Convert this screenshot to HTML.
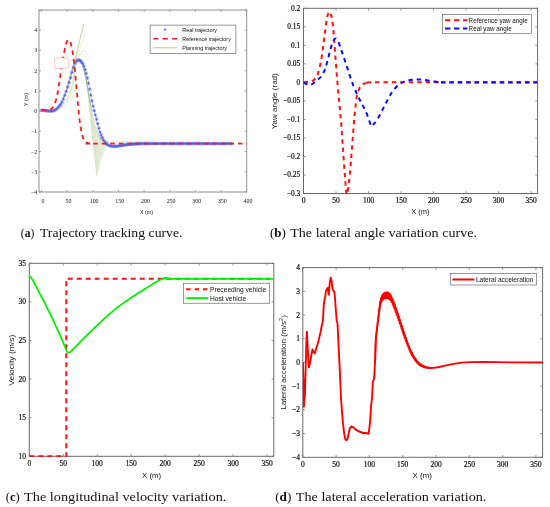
<!DOCTYPE html>
<html><head><meta charset="utf-8"><title>Figure</title>
<style>html,body{margin:0;padding:0;background:#fff;width:550px;height:507px;overflow:hidden}svg{display:block}</style>
</head><body>
<svg width="550" height="507" viewBox="0 0 550 507">
<rect width="550" height="507" fill="#fff"/>
<defs>
<clipPath id="ca"><rect x="39" y="10" width="207.7" height="182"/></clipPath>
<clipPath id="cb"><rect x="303.5" y="8.3" width="234.10000000000002" height="186.2"/></clipPath>
<clipPath id="cc"><rect x="29.3" y="263.3" width="244.5" height="194.0"/></clipPath>
<clipPath id="cd"><rect x="302.8" y="267.6" width="239.8" height="189.7"/></clipPath>
</defs>
<path d="M41.56 192v-2 M41.56 10v2 M67.2 192v-2 M67.2 10v2 M92.84 192v-2 M92.84 10v2 M118.48 192v-2 M118.48 10v2 M144.12 192v-2 M144.12 10v2 M169.76 192v-2 M169.76 10v2 M195.4 192v-2 M195.4 10v2 M221.04 192v-2 M221.04 10v2 M246.68 192v-2 M246.68 10v2 M39 191.98h2 M246.7 191.98h-2 M39 171.76h2 M246.7 171.76h-2 M39 151.54h2 M246.7 151.54h-2 M39 131.32h2 M246.7 131.32h-2 M39 111.1h2 M246.7 111.1h-2 M39 90.88h2 M246.7 90.88h-2 M39 70.66h2 M246.7 70.66h-2 M39 50.44h2 M246.7 50.44h-2 M39 30.22h2 M246.7 30.22h-2 M39 10h2 M246.7 10h-2 " stroke="#8a8a8a" stroke-width="0.7" fill="none"/>
<rect x="39" y="10" width="207.7" height="182" fill="none" stroke="#8a8a8a" stroke-width="0.95"/>
<g clip-path="url(#ca)">
<path d="M50 110.6 C50.83 110.43 53.33 110.53 55 109.6 C56.67 108.67 58.5 107.1 60 105 C61.5 102.9 62.75 100 64 97 C65.25 94 66.42 90.5 67.5 87 C68.58 83.5 69.58 79.33 70.5 76 C71.42 72.67 72.2 69.5 73 67 C73.8 64.5 74.5 62.35 75.3 61 C76.1 59.65 76.97 59.1 77.8 58.9 C78.63 58.7 79.52 58.98 80.3 59.8 C81.08 60.62 81.83 62.02 82.5 63.8 C83.17 65.58 83.72 68 84.3 70.5 C84.88 73 85.45 75.88 86 78.8 C86.55 81.72 87.07 84.8 87.6 88 C88.13 91.2 88.67 94.67 89.2 98 C89.73 101.33 90.23 104.75 90.8 108 C91.37 111.25 91.93 114.5 92.6 117.5 C93.27 120.5 93.93 123.28 94.8 126 C95.67 128.72 96.72 131.5 97.8 133.8 C98.88 136.1 100.05 138.13 101.3 139.8 C102.55 141.47 103.85 142.82 105.3 143.8 C106.75 144.78 107.88 145.32 110 145.7 C112.12 146.08 114.67 146.18 118 146.1 C121.33 146.02 126.33 145.45 130 145.2 C133.67 144.95 138.33 144.7 140 144.6" fill="none" stroke="#a9c585" stroke-width="1.3"/>
<path d="M88.5 100 L92.5 140 L96.8 176.5 L99.5 168 L104 152 L107 146 L100 139 L94 120 Z" fill="#e6eedb" opacity="0.9"/>
<path d="M88 96 L96.8 176" stroke="#cfdeb9" stroke-width="0.5" fill="none"/>
<path d="M89.5 104 L97.2 174" stroke="#cfdeb9" stroke-width="0.5" fill="none"/>
<path d="M91 112 L97.6 171" stroke="#cfdeb9" stroke-width="0.5" fill="none"/>
<path d="M92.8 119 L98.2 167" stroke="#cfdeb9" stroke-width="0.5" fill="none"/>
<path d="M94.5 126 L99 162" stroke="#cfdeb9" stroke-width="0.5" fill="none"/>
<path d="M96.5 131 L100 157" stroke="#cfdeb9" stroke-width="0.5" fill="none"/>
<path d="M99 136 L101.5 153" stroke="#cfdeb9" stroke-width="0.5" fill="none"/>
<path d="M102 140 L103.5 150" stroke="#cfdeb9" stroke-width="0.5" fill="none"/>
<path d="M74.3 63 L83.6 24.4" stroke="#bfd39b" stroke-width="1.0" fill="none"/>
<path d="M74.3 63 L86 32.3" stroke="#d3e1bd" stroke-width="0.6" fill="none"/>
<path d="M74.3 63 L87.5 43.6" stroke="#e0eacf" stroke-width="0.5" fill="none"/>
<path d="M52 110.5 C53.33 110 57.67 109.08 60 107.5 C62.33 105.92 64.25 103.75 66 101 C67.75 98.25 69.25 94.83 70.5 91 C71.75 87.17 72.67 82.17 73.5 78 C74.33 73.83 75.17 68 75.5 66" fill="none" stroke="#d5e3c0" stroke-width="0.6"/>
<path d="M56 108.5 C57.17 107.75 61 105.92 63 104 C65 102.08 66.5 100 68 97 C69.5 94 70.92 89.83 72 86 C73.08 82.17 74.08 76 74.5 74" fill="none" stroke="#d5e3c0" stroke-width="0.6"/>
<path d="M55 110 C56.67 109 62.33 107 65 104 C67.67 101 69.5 96.33 71 92 C72.5 87.67 73.25 82.67 74 78 C74.75 73.33 75.25 66.33 75.5 64" fill="none" stroke="#dbe7ca" stroke-width="0.6"/>
<path d="M58 110 C59.5 108.92 64.67 106.67 67 103.5 C69.33 100.33 70.67 96.08 72 91 C73.33 85.92 74.5 76 75 73" fill="none" stroke="#dbe7ca" stroke-width="0.6"/>
<path d="M61 109.5 C62.33 108.58 66.92 106.58 69 104 C71.08 101.42 72.33 98.33 73.5 94 C74.67 89.67 75.58 80.67 76 78" fill="none" stroke="#dbe7ca" stroke-width="0.6"/>
<path d="M52 111 C53.67 110.33 59.17 109.33 62 107 C64.83 104.67 67.13 101.17 69 97 C70.87 92.83 72.15 87.5 73.2 82 C74.25 76.5 74.95 67 75.3 64" fill="none" stroke="#dbe7ca" stroke-width="0.6"/>
<path d="M76 61 C76.67 60 78.67 56 80 55 C81.33 54 82.83 54.17 84 55 C85.17 55.83 86.5 59.17 87 60" fill="none" stroke="#d5e3c0" stroke-width="0.6"/>
<path d="M76 61 C76.83 59.5 79.33 53.5 81 52 C82.67 50.5 84.67 51 86 52 C87.33 53 88.5 57 89 58" fill="none" stroke="#dce8c8" stroke-width="0.6"/>
<path d="M100 142 L150 142.5" stroke="#e3ecd6" stroke-width="2" fill="none"/>
<path d="M41.6 110.2 C42.33 110.28 44.6 110.55 46 110.7 C47.4 110.85 48.75 111.08 50 111.1 C51.25 111.12 52.33 111.23 53.5 110.8 C54.67 110.37 55.63 109.87 57 108.5 C58.37 107.13 60.33 104.97 61.7 102.6 C63.07 100.23 64.02 97.45 65.2 94.3 C66.38 91.15 67.78 86.88 68.8 83.7 C69.82 80.52 70.5 77.97 71.3 75.2 C72.1 72.43 72.83 69.33 73.6 67.1 C74.37 64.87 75.03 62.95 75.9 61.8 C76.77 60.65 77.75 60.03 78.8 60.2 C79.85 60.37 81.12 61.12 82.2 62.8 C83.28 64.48 84.37 67.43 85.3 70.3 C86.23 73.17 87 76.47 87.8 80 C88.6 83.53 89.32 87.58 90.1 91.5 C90.88 95.42 91.75 100.08 92.5 103.5 C93.25 106.92 93.88 109.22 94.6 112 C95.32 114.78 95.98 117.12 96.8 120.2 C97.62 123.28 98.63 127.7 99.5 130.5 C100.37 133.3 101.17 135.17 102 137 C102.83 138.83 103.5 140.17 104.5 141.5 C105.5 142.83 106.75 144.2 108 145 C109.25 145.8 110.5 146.1 112 146.3 C113.5 146.5 115.17 146.38 117 146.2 C118.83 146.02 120.83 145.53 123 145.2 C125.17 144.87 127.17 144.45 130 144.2 C132.83 143.95 135 143.8 140 143.7 C145 143.6 144.63 143.62 160 143.6 C175.37 143.58 220.17 143.6 232.2 143.6" fill="none" stroke="#8c98f0" stroke-width="0.8" opacity="0.7"/>
<path d="M39.8 110.2h3.6 M41.6 108.4v3.6 M40.34 108.94l2.52 2.52 M40.34 111.46l2.52 -2.52 M41.25 110.37h3.6 M43.05 108.57v3.6 M41.79 109.11l2.52 2.52 M41.79 111.63l2.52 -2.52 M42.7 110.53h3.6 M44.5 108.73v3.6 M43.24 109.27l2.52 2.52 M43.24 111.79l2.52 -2.52 M44.15 110.69h3.6 M45.95 108.89v3.6 M44.69 109.43l2.52 2.52 M44.69 111.95l2.52 -2.52 M45.6 110.87h3.6 M47.4 109.07v3.6 M46.14 109.61l2.52 2.52 M46.14 112.13l2.52 -2.52 M47.05 111.03h3.6 M48.85 109.23v3.6 M47.59 109.77l2.52 2.52 M47.59 112.29l2.52 -2.52 M48.5 111.11h3.6 M50.3 109.31v3.6 M49.04 109.85l2.52 2.52 M49.04 112.37l2.52 -2.52 M49.95 111.12h3.6 M51.75 109.32v3.6 M50.49 109.86l2.52 2.52 M50.49 112.38l2.52 -2.52 M51.4 110.9h3.6 M53.2 109.1v3.6 M51.94 109.64l2.52 2.52 M51.94 112.16l2.52 -2.52 M52.85 110.3h3.6 M54.65 108.5v3.6 M53.39 109.04l2.52 2.52 M53.39 111.56l2.52 -2.52 M54.3 109.33h3.6 M56.1 107.53v3.6 M54.84 108.07l2.52 2.52 M54.84 110.59l2.52 -2.52 M55.75 107.94h3.6 M57.55 106.14v3.6 M56.29 106.68l2.52 2.52 M56.29 109.2l2.52 -2.52 M57.2 106.34h3.6 M59 104.54v3.6 M57.74 105.08l2.52 2.52 M57.74 107.6l2.52 -2.52 M58.65 104.51h3.6 M60.45 102.71v3.6 M59.19 103.25l2.52 2.52 M59.19 105.77l2.52 -2.52 M60.1 102.24h3.6 M61.9 100.44v3.6 M60.64 100.98l2.52 2.52 M60.64 103.5l2.52 -2.52 M61.55 99.16h3.6 M63.35 97.36v3.6 M62.09 97.9l2.52 2.52 M62.09 100.42l2.52 -2.52 M63 95.37h3.6 M64.8 93.57v3.6 M63.54 94.11l2.52 2.52 M63.54 96.63l2.52 -2.52 M64.45 91.39h3.6 M66.25 89.59v3.6 M64.99 90.13l2.52 2.52 M64.99 92.65l2.52 -2.52 M65.9 87.1h3.6 M67.7 85.3v3.6 M66.44 85.84l2.52 2.52 M66.44 88.36l2.52 -2.52 M67.35 82.59h3.6 M69.15 80.79v3.6 M67.89 81.33l2.52 2.52 M67.89 83.85l2.52 -2.52 M68.8 77.65h3.6 M70.6 75.85v3.6 M69.34 76.39l2.52 2.52 M69.34 78.91l2.52 -2.52 M70.25 72.48h3.6 M72.05 70.68v3.6 M70.79 71.22l2.52 2.52 M70.79 73.74l2.52 -2.52 M71.7 67.4h3.6 M73.5 65.6v3.6 M72.24 66.14l2.52 2.52 M72.24 68.66l2.52 -2.52 M73.15 63.49h3.6 M74.95 61.69v3.6 M73.69 62.23l2.52 2.52 M73.69 64.75l2.52 -2.52 M74.6 61.21h3.6 M76.4 59.41v3.6 M75.14 59.95l2.52 2.52 M75.14 62.47l2.52 -2.52 M76.05 60.26h3.6 M77.85 58.46v3.6 M76.59 59l2.52 2.52 M76.59 61.52l2.52 -2.52 M77.5 60.32h3.6 M79.3 58.52v3.6 M78.04 59.06l2.52 2.52 M78.04 61.58l2.52 -2.52 M78.65 60.91h3.6 M80.45 59.11v3.6 M79.19 59.65l2.52 2.52 M79.19 62.17l2.52 -2.52 M79.8 61.98h3.6 M81.6 60.18v3.6 M80.34 60.72l2.52 2.52 M80.34 63.24l2.52 -2.52 M80.95 63.76h3.6 M82.75 61.96v3.6 M81.49 62.5l2.52 2.52 M81.49 65.02l2.52 -2.52 M82.1 66.34h3.6 M83.9 64.54v3.6 M82.64 65.08l2.52 2.52 M82.64 67.6l2.52 -2.52 M83.25 69.54h3.6 M85.05 67.74v3.6 M83.79 68.28l2.52 2.52 M83.79 70.8l2.52 -2.52 M84.4 73.36h3.6 M86.2 71.56v3.6 M84.94 72.1l2.52 2.52 M84.94 74.62l2.52 -2.52 M85.55 78.03h3.6 M87.35 76.23v3.6 M86.09 76.77l2.52 2.52 M86.09 79.29l2.52 -2.52 M86.7 83.29h3.6 M88.5 81.49v3.6 M87.24 82.03l2.52 2.52 M87.24 84.55l2.52 -2.52 M87.85 89.21h3.6 M89.65 87.41v3.6 M88.39 87.95l2.52 2.52 M88.39 90.47l2.52 -2.52 M89 95.06h3.6 M90.8 93.26v3.6 M89.54 93.8l2.52 2.52 M89.54 96.32l2.52 -2.52 M90.15 100.89h3.6 M91.95 99.09v3.6 M90.69 99.63l2.52 2.52 M90.69 102.15l2.52 -2.52 M91.3 106.11h3.6 M93.1 104.31v3.6 M91.84 104.85l2.52 2.52 M91.84 107.37l2.52 -2.52 M92.45 110.65h3.6 M94.25 108.85v3.6 M92.99 109.39l2.52 2.52 M92.99 111.91l2.52 -2.52 M93.6 115.02h3.6 M95.4 113.22v3.6 M94.14 113.76l2.52 2.52 M94.14 116.28l2.52 -2.52 M94.75 119.26h3.6 M96.55 117.46v3.6 M95.29 118l2.52 2.52 M95.29 120.52l2.52 -2.52 M95.9 123.74h3.6 M97.7 121.94v3.6 M96.44 122.48l2.52 2.52 M96.44 125l2.52 -2.52 M97.05 128.23h3.6 M98.85 126.43v3.6 M97.59 126.97l2.52 2.52 M97.59 129.49l2.52 -2.52 M98.2 132.04h3.6 M100 130.24v3.6 M98.74 130.78l2.52 2.52 M98.74 133.3l2.52 -2.52 M99.35 135.06h3.6 M101.15 133.26v3.6 M99.89 133.8l2.52 2.52 M99.89 136.32l2.52 -2.52 M100.5 137.65h3.6 M102.3 135.85v3.6 M101.04 136.39l2.52 2.52 M101.04 138.91l2.52 -2.52 M101.65 139.91h3.6 M103.45 138.11v3.6 M102.19 138.65l2.52 2.52 M102.19 141.17l2.52 -2.52 M102.8 141.63h3.6 M104.6 139.83v3.6 M103.34 140.37l2.52 2.52 M103.34 142.89l2.52 -2.52 M103.95 143.02h3.6 M105.75 141.22v3.6 M104.49 141.76l2.52 2.52 M104.49 144.28l2.52 -2.52 M105.1 144.16h3.6 M106.9 142.36v3.6 M105.64 142.9l2.52 2.52 M105.64 145.42l2.52 -2.52 M106.55 145.21h3.6 M108.35 143.41v3.6 M107.09 143.95l2.52 2.52 M107.09 146.47l2.52 -2.52 M108 145.84h3.6 M109.8 144.04v3.6 M108.54 144.58l2.52 2.52 M108.54 147.1l2.52 -2.52 M109.45 146.19h3.6 M111.25 144.39v3.6 M109.99 144.93l2.52 2.52 M109.99 147.45l2.52 -2.52 M110.9 146.37h3.6 M112.7 144.57v3.6 M111.44 145.11l2.52 2.52 M111.44 147.63l2.52 -2.52 M112.35 146.4h3.6 M114.15 144.6v3.6 M112.89 145.14l2.52 2.52 M112.89 147.66l2.52 -2.52 M113.8 146.33h3.6 M115.6 144.53v3.6 M114.34 145.07l2.52 2.52 M114.34 147.59l2.52 -2.52 M115.25 146.19h3.6 M117.05 144.39v3.6 M115.79 144.93l2.52 2.52 M115.79 147.45l2.52 -2.52 M116.7 146h3.6 M118.5 144.2v3.6 M117.24 144.74l2.52 2.52 M117.24 147.26l2.52 -2.52 M118.15 145.74h3.6 M119.95 143.94v3.6 M118.69 144.48l2.52 2.52 M118.69 147l2.52 -2.52 M119.6 145.47h3.6 M121.4 143.67v3.6 M120.14 144.21l2.52 2.52 M120.14 146.73l2.52 -2.52 M121.05 145.22h3.6 M122.85 143.42v3.6 M121.59 143.96l2.52 2.52 M121.59 146.48l2.52 -2.52 M122.5 144.99h3.6 M124.3 143.19v3.6 M123.04 143.73l2.52 2.52 M123.04 146.25l2.52 -2.52 M123.95 144.75h3.6 M125.75 142.95v3.6 M124.49 143.49l2.52 2.52 M124.49 146.01l2.52 -2.52 M125.4 144.53h3.6 M127.2 142.73v3.6 M125.94 143.27l2.52 2.52 M125.94 145.79l2.52 -2.52 M126.85 144.34h3.6 M128.65 142.54v3.6 M127.39 143.08l2.52 2.52 M127.39 145.6l2.52 -2.52 M128.3 144.19h3.6 M130.1 142.39v3.6 M128.84 142.93l2.52 2.52 M128.84 145.45l2.52 -2.52 M129.75 144.07h3.6 M131.55 142.27v3.6 M130.29 142.81l2.52 2.52 M130.29 145.33l2.52 -2.52 M131.2 143.96h3.6 M133 142.16v3.6 M131.74 142.7l2.52 2.52 M131.74 145.22l2.52 -2.52 M132.65 143.88h3.6 M134.45 142.08v3.6 M133.19 142.62l2.52 2.52 M133.19 145.14l2.52 -2.52 M134.1 143.82h3.6 M135.9 142.02v3.6 M134.64 142.56l2.52 2.52 M134.64 145.08l2.52 -2.52 M135.55 143.77h3.6 M137.35 141.97v3.6 M136.09 142.51l2.52 2.52 M136.09 145.03l2.52 -2.52 M137 143.73h3.6 M138.8 141.93v3.6 M137.54 142.47l2.52 2.52 M137.54 144.99l2.52 -2.52 M138.45 143.7h3.6 M140.25 141.9v3.6 M138.99 142.44l2.52 2.52 M138.99 144.96l2.52 -2.52 M139.9 143.67h3.6 M141.7 141.87v3.6 M140.44 142.41l2.52 2.52 M140.44 144.93l2.52 -2.52 M141.35 143.64h3.6 M143.15 141.84v3.6 M141.89 142.38l2.52 2.52 M141.89 144.9l2.52 -2.52 M142.8 143.63h3.6 M144.6 141.83v3.6 M143.34 142.37l2.52 2.52 M143.34 144.89l2.52 -2.52 M144.25 143.62h3.6 M146.05 141.82v3.6 M144.79 142.36l2.52 2.52 M144.79 144.88l2.52 -2.52 M145.7 143.61h3.6 M147.5 141.81v3.6 M146.24 142.35l2.52 2.52 M146.24 144.87l2.52 -2.52 M147.15 143.61h3.6 M148.95 141.81v3.6 M147.69 142.35l2.52 2.52 M147.69 144.87l2.52 -2.52 M148.6 143.61h3.6 M150.4 141.81v3.6 M149.14 142.35l2.52 2.52 M149.14 144.87l2.52 -2.52 M150.05 143.61h3.6 M151.85 141.81v3.6 M150.59 142.35l2.52 2.52 M150.59 144.87l2.52 -2.52 M151.5 143.61h3.6 M153.3 141.81v3.6 M152.04 142.35l2.52 2.52 M152.04 144.87l2.52 -2.52 M152.95 143.61h3.6 M154.75 141.81v3.6 M153.49 142.35l2.52 2.52 M153.49 144.87l2.52 -2.52 M154.4 143.6h3.6 M156.2 141.8v3.6 M154.94 142.34l2.52 2.52 M154.94 144.86l2.52 -2.52 M155.85 143.6h3.6 M157.65 141.8v3.6 M156.39 142.34l2.52 2.52 M156.39 144.86l2.52 -2.52 M157.3 143.6h3.6 M159.1 141.8v3.6 M157.84 142.34l2.52 2.52 M157.84 144.86l2.52 -2.52 M158.75 143.6h3.6 M160.55 141.8v3.6 M159.29 142.34l2.52 2.52 M159.29 144.86l2.52 -2.52 M160.2 143.6h3.6 M162 141.8v3.6 M160.74 142.34l2.52 2.52 M160.74 144.86l2.52 -2.52 M161.65 143.6h3.6 M163.45 141.8v3.6 M162.19 142.34l2.52 2.52 M162.19 144.86l2.52 -2.52 M163.1 143.6h3.6 M164.9 141.8v3.6 M163.64 142.34l2.52 2.52 M163.64 144.86l2.52 -2.52 M164.55 143.6h3.6 M166.35 141.8v3.6 M165.09 142.34l2.52 2.52 M165.09 144.86l2.52 -2.52 M166 143.59h3.6 M167.8 141.79v3.6 M166.54 142.33l2.52 2.52 M166.54 144.85l2.52 -2.52 M167.45 143.59h3.6 M169.25 141.79v3.6 M167.99 142.33l2.52 2.52 M167.99 144.85l2.52 -2.52 M168.9 143.59h3.6 M170.7 141.79v3.6 M169.44 142.33l2.52 2.52 M169.44 144.85l2.52 -2.52 M170.35 143.59h3.6 M172.15 141.79v3.6 M170.89 142.33l2.52 2.52 M170.89 144.85l2.52 -2.52 M171.8 143.59h3.6 M173.6 141.79v3.6 M172.34 142.33l2.52 2.52 M172.34 144.85l2.52 -2.52 M173.25 143.59h3.6 M175.05 141.79v3.6 M173.79 142.33l2.52 2.52 M173.79 144.85l2.52 -2.52 M174.7 143.59h3.6 M176.5 141.79v3.6 M175.24 142.33l2.52 2.52 M175.24 144.85l2.52 -2.52 M176.15 143.59h3.6 M177.95 141.79v3.6 M176.69 142.33l2.52 2.52 M176.69 144.85l2.52 -2.52 M177.6 143.59h3.6 M179.4 141.79v3.6 M178.14 142.33l2.52 2.52 M178.14 144.85l2.52 -2.52 M179.05 143.59h3.6 M180.85 141.79v3.6 M179.59 142.33l2.52 2.52 M179.59 144.85l2.52 -2.52 M180.5 143.59h3.6 M182.3 141.79v3.6 M181.04 142.33l2.52 2.52 M181.04 144.85l2.52 -2.52 M181.95 143.59h3.6 M183.75 141.79v3.6 M182.49 142.33l2.52 2.52 M182.49 144.85l2.52 -2.52 M183.4 143.59h3.6 M185.2 141.79v3.6 M183.94 142.33l2.52 2.52 M183.94 144.85l2.52 -2.52 M184.85 143.59h3.6 M186.65 141.79v3.6 M185.39 142.33l2.52 2.52 M185.39 144.85l2.52 -2.52 M186.3 143.59h3.6 M188.1 141.79v3.6 M186.84 142.33l2.52 2.52 M186.84 144.85l2.52 -2.52 M187.75 143.59h3.6 M189.55 141.79v3.6 M188.29 142.33l2.52 2.52 M188.29 144.85l2.52 -2.52 M189.2 143.59h3.6 M191 141.79v3.6 M189.74 142.33l2.52 2.52 M189.74 144.85l2.52 -2.52 M190.65 143.59h3.6 M192.45 141.79v3.6 M191.19 142.33l2.52 2.52 M191.19 144.85l2.52 -2.52 M192.1 143.59h3.6 M193.9 141.79v3.6 M192.64 142.33l2.52 2.52 M192.64 144.85l2.52 -2.52 M193.55 143.59h3.6 M195.35 141.79v3.6 M194.09 142.33l2.52 2.52 M194.09 144.85l2.52 -2.52 M195 143.59h3.6 M196.8 141.79v3.6 M195.54 142.33l2.52 2.52 M195.54 144.85l2.52 -2.52 M196.45 143.59h3.6 M198.25 141.79v3.6 M196.99 142.33l2.52 2.52 M196.99 144.85l2.52 -2.52 M197.9 143.59h3.6 M199.7 141.79v3.6 M198.44 142.33l2.52 2.52 M198.44 144.85l2.52 -2.52 M199.35 143.59h3.6 M201.15 141.79v3.6 M199.89 142.33l2.52 2.52 M199.89 144.85l2.52 -2.52 M200.8 143.59h3.6 M202.6 141.79v3.6 M201.34 142.33l2.52 2.52 M201.34 144.85l2.52 -2.52 M202.25 143.59h3.6 M204.05 141.79v3.6 M202.79 142.33l2.52 2.52 M202.79 144.85l2.52 -2.52 M203.7 143.6h3.6 M205.5 141.8v3.6 M204.24 142.34l2.52 2.52 M204.24 144.86l2.52 -2.52 M205.15 143.6h3.6 M206.95 141.8v3.6 M205.69 142.34l2.52 2.52 M205.69 144.86l2.52 -2.52 M206.6 143.6h3.6 M208.4 141.8v3.6 M207.14 142.34l2.52 2.52 M207.14 144.86l2.52 -2.52 M208.05 143.6h3.6 M209.85 141.8v3.6 M208.59 142.34l2.52 2.52 M208.59 144.86l2.52 -2.52 M209.5 143.6h3.6 M211.3 141.8v3.6 M210.04 142.34l2.52 2.52 M210.04 144.86l2.52 -2.52 M210.95 143.6h3.6 M212.75 141.8v3.6 M211.49 142.34l2.52 2.52 M211.49 144.86l2.52 -2.52 M212.4 143.6h3.6 M214.2 141.8v3.6 M212.94 142.34l2.52 2.52 M212.94 144.86l2.52 -2.52 M213.85 143.6h3.6 M215.65 141.8v3.6 M214.39 142.34l2.52 2.52 M214.39 144.86l2.52 -2.52 M215.3 143.6h3.6 M217.1 141.8v3.6 M215.84 142.34l2.52 2.52 M215.84 144.86l2.52 -2.52 M216.75 143.6h3.6 M218.55 141.8v3.6 M217.29 142.34l2.52 2.52 M217.29 144.86l2.52 -2.52 M218.2 143.6h3.6 M220 141.8v3.6 M218.74 142.34l2.52 2.52 M218.74 144.86l2.52 -2.52 M219.65 143.6h3.6 M221.45 141.8v3.6 M220.19 142.34l2.52 2.52 M220.19 144.86l2.52 -2.52 M221.1 143.6h3.6 M222.9 141.8v3.6 M221.64 142.34l2.52 2.52 M221.64 144.86l2.52 -2.52 M222.55 143.6h3.6 M224.35 141.8v3.6 M223.09 142.34l2.52 2.52 M223.09 144.86l2.52 -2.52 M224 143.6h3.6 M225.8 141.8v3.6 M224.54 142.34l2.52 2.52 M224.54 144.86l2.52 -2.52 M225.45 143.6h3.6 M227.25 141.8v3.6 M225.99 142.34l2.52 2.52 M225.99 144.86l2.52 -2.52 M226.9 143.6h3.6 M228.7 141.8v3.6 M227.44 142.34l2.52 2.52 M227.44 144.86l2.52 -2.52 M228.35 143.6h3.6 M230.15 141.8v3.6 M228.89 142.34l2.52 2.52 M228.89 144.86l2.52 -2.52 M229.8 143.6h3.6 M231.6 141.8v3.6 M230.34 142.34l2.52 2.52 M230.34 144.86l2.52 -2.52 " fill="none" stroke="#4d5ff3" stroke-width="0.8" opacity="0.8"/>
<path d="M41.6 110.1 C42.33 110.08 44.63 110.08 46 110 C47.37 109.92 48.75 109.92 49.8 109.6 C50.85 109.28 51.52 108.95 52.3 108.1 C53.08 107.25 53.83 106.02 54.5 104.5 C55.17 102.98 55.72 101.25 56.3 99 C56.88 96.75 57.42 94.33 58 91 C58.58 87.67 59.18 83 59.8 79 C60.42 75 61.08 70.83 61.7 67 C62.32 63.17 62.87 59.5 63.5 56 C64.13 52.5 64.88 48.5 65.5 46 C66.12 43.5 66.7 41.98 67.2 41 C67.7 40.02 68.07 40.1 68.5 40.1 C68.93 40.1 69.3 40.02 69.8 41 C70.3 41.98 70.88 43.17 71.5 46 C72.12 48.83 72.88 53.33 73.5 58 C74.12 62.67 74.7 69 75.2 74 C75.7 79 76.08 83.5 76.5 88 C76.92 92.5 77.3 96.67 77.7 101 C78.1 105.33 78.48 110.08 78.9 114 C79.32 117.92 79.72 121.25 80.2 124.5 C80.68 127.75 81.17 130.92 81.8 133.5 C82.43 136.08 83.13 138.43 84 140 C84.87 141.57 85.83 142.3 87 142.9 C88.17 143.5 88.83 143.47 91 143.6 C93.17 143.73 74 143.68 100 143.7 C126 143.72 222.5 143.7 247 143.7" fill="none" stroke="#ff1a1a" stroke-width="1.8" stroke-dasharray="4.6 3.9"/>
<rect x="54.7" y="58" width="13.6" height="10.4" rx="1.5" fill="#fff" stroke="#eaa4a4" stroke-width="0.6"/>
</g>
<rect x="150.1" y="25.1" width="85.8" height="28.5" fill="#fff" stroke="#555" stroke-width="0.6"/>
<path d="M153.2 47.8 H177.4" stroke="#b4cc94" stroke-width="1"/>
<path d="M153.2 38.7 H177.4" stroke="#ff1a1a" stroke-width="1.6" stroke-dasharray="5.2 4.2"/>
<path d="M163.4 29.6h3.2 M165 28v3.2 M163.9 28.5l2.2 2.2 M163.9 30.7l2.2 -2.2" stroke="#5d6ef5" stroke-width="0.6"/>
<text x="182.3" y="29.8" font-size="5.4" font-family="'Liberation Sans', Arial, sans-serif" text-anchor="start" dominant-baseline="central" fill="#111" >Real trajectory</text>
<text x="182.3" y="38.8" font-size="5.4" font-family="'Liberation Sans', Arial, sans-serif" text-anchor="start" dominant-baseline="central" fill="#111" >Reference trajectory</text>
<text x="182.3" y="47.8" font-size="5.4" font-family="'Liberation Sans', Arial, sans-serif" text-anchor="start" dominant-baseline="central" fill="#111" >Planning trajectory</text>
<text x="42.86" y="200.5" font-size="5.9" font-family="'Liberation Serif', serif" text-anchor="middle" dominant-baseline="central" fill="#111" >0</text>
<text x="68.5" y="200.5" font-size="5.9" font-family="'Liberation Serif', serif" text-anchor="middle" dominant-baseline="central" fill="#111" >50</text>
<text x="94.14" y="200.5" font-size="5.9" font-family="'Liberation Serif', serif" text-anchor="middle" dominant-baseline="central" fill="#111" >100</text>
<text x="119.78" y="200.5" font-size="5.9" font-family="'Liberation Serif', serif" text-anchor="middle" dominant-baseline="central" fill="#111" >150</text>
<text x="145.42" y="200.5" font-size="5.9" font-family="'Liberation Serif', serif" text-anchor="middle" dominant-baseline="central" fill="#111" >200</text>
<text x="171.06" y="200.5" font-size="5.9" font-family="'Liberation Serif', serif" text-anchor="middle" dominant-baseline="central" fill="#111" >250</text>
<text x="196.7" y="200.5" font-size="5.9" font-family="'Liberation Serif', serif" text-anchor="middle" dominant-baseline="central" fill="#111" >300</text>
<text x="222.34" y="200.5" font-size="5.9" font-family="'Liberation Serif', serif" text-anchor="middle" dominant-baseline="central" fill="#111" >350</text>
<text x="247.98" y="200.5" font-size="5.9" font-family="'Liberation Serif', serif" text-anchor="middle" dominant-baseline="central" fill="#111" >400</text>
<text x="37.2" y="191.98" font-size="5.8" font-family="'Liberation Serif', serif" text-anchor="end" dominant-baseline="central" fill="#111" >−4</text>
<text x="37.2" y="171.76" font-size="5.8" font-family="'Liberation Serif', serif" text-anchor="end" dominant-baseline="central" fill="#111" >−3</text>
<text x="37.2" y="151.54" font-size="5.8" font-family="'Liberation Serif', serif" text-anchor="end" dominant-baseline="central" fill="#111" >−2</text>
<text x="37.2" y="131.32" font-size="5.8" font-family="'Liberation Serif', serif" text-anchor="end" dominant-baseline="central" fill="#111" >−1</text>
<text x="37.2" y="111.1" font-size="5.8" font-family="'Liberation Serif', serif" text-anchor="end" dominant-baseline="central" fill="#111" >0</text>
<text x="37.2" y="90.88" font-size="5.8" font-family="'Liberation Serif', serif" text-anchor="end" dominant-baseline="central" fill="#111" >1</text>
<text x="37.2" y="70.66" font-size="5.8" font-family="'Liberation Serif', serif" text-anchor="end" dominant-baseline="central" fill="#111" >2</text>
<text x="37.2" y="50.44" font-size="5.8" font-family="'Liberation Serif', serif" text-anchor="end" dominant-baseline="central" fill="#111" >3</text>
<text x="37.2" y="30.22" font-size="5.8" font-family="'Liberation Serif', serif" text-anchor="end" dominant-baseline="central" fill="#111" >4</text>
<text x="146.5" y="211.7" font-size="5.3" font-family="'Liberation Sans', Arial, sans-serif" text-anchor="middle" dominant-baseline="central" fill="#111" >X (m)</text>
<text x="27.8" y="99.5" font-size="5.3" font-family="'Liberation Sans', Arial, sans-serif" text-anchor="middle" fill="#222" textLength="13" lengthAdjust="spacingAndGlyphs" transform="rotate(-90 27.8 99.5)">Y (m)</text>
<path d="M303.5 193.5v-2.3 M303.5 8.3v2.3 M336.01 193.5v-2.3 M336.01 8.3v2.3 M368.53 193.5v-2.3 M368.53 8.3v2.3 M401.05 193.5v-2.3 M401.05 8.3v2.3 M433.56 193.5v-2.3 M433.56 8.3v2.3 M466.07 193.5v-2.3 M466.07 8.3v2.3 M498.59 193.5v-2.3 M498.59 8.3v2.3 M531.11 193.5v-2.3 M531.11 8.3v2.3 M303.5 193.5h2.3 M537.6 193.5h-2.3 M303.5 174.98h2.3 M537.6 174.98h-2.3 M303.5 156.46h2.3 M537.6 156.46h-2.3 M303.5 137.94h2.3 M537.6 137.94h-2.3 M303.5 119.42h2.3 M537.6 119.42h-2.3 M303.5 100.9h2.3 M537.6 100.9h-2.3 M303.5 82.38h2.3 M537.6 82.38h-2.3 M303.5 63.86h2.3 M537.6 63.86h-2.3 M303.5 45.34h2.3 M537.6 45.34h-2.3 M303.5 26.82h2.3 M537.6 26.82h-2.3 M303.5 8.3h2.3 M537.6 8.3h-2.3 " stroke="#6a6a6a" stroke-width="0.7" fill="none"/>
<rect x="303.5" y="8.3" width="234.1" height="185.2" fill="none" stroke="#6a6a6a" stroke-width="1"/>
<g clip-path="url(#cb)">
<path d="M303.6 82.3 C304.48 82.23 307.2 82.28 308.9 81.9 C310.6 81.52 312.32 81.32 313.8 80 C315.28 78.68 316.6 77.17 317.8 74 C319 70.83 320.07 65.92 321 61 C321.93 56.08 322.67 49.87 323.4 44.5 C324.13 39.13 324.78 33.3 325.4 28.8 C326.02 24.3 326.6 20.15 327.1 17.5 C327.6 14.85 328.03 13.83 328.4 12.9 C328.77 11.97 328.93 11.8 329.3 11.9 C329.67 12 330.12 12.15 330.6 13.5 C331.08 14.85 331.7 16.75 332.2 20 C332.7 23.25 333.08 27.17 333.6 33 C334.12 38.83 334.72 47.33 335.3 55 C335.88 62.67 336.47 71.33 337.1 79 C337.73 86.67 338.45 94 339.1 101 C339.75 108 340.35 113 341 121 C341.65 129 342.33 139.67 343 149 C343.67 158.33 344.37 169.42 345 177 C345.63 184.58 346.1 194 346.8 194.5 C347.5 195 348.47 186.08 349.2 180 C349.93 173.92 350.65 164.5 351.2 158 C351.75 151.5 351.93 148.17 352.5 141 C353.07 133.83 353.9 122.33 354.6 115 C355.3 107.67 356.05 101.08 356.7 97 C357.35 92.92 357.87 92.25 358.5 90.5 C359.13 88.75 359.75 87.55 360.5 86.5 C361.25 85.45 362 84.78 363 84.2 C364 83.62 365.17 83.31 366.5 83 C367.83 82.69 358.58 82.46 371 82.35 C383.42 82.24 429.33 82.35 441 82.35" fill="none" stroke="#ff1010" stroke-width="2" stroke-dasharray="4.4 4"/>
<path d="M441 82.35 H537.6" fill="none" stroke="#ff1010" stroke-width="2" stroke-dasharray="4.4 4"/>
<path d="M303.6 82.3 C304.08 82.62 305.45 83.75 306.5 84.2 C307.55 84.65 308.82 85.12 309.9 85 C310.98 84.88 311.9 84.25 313 83.5 C314.1 82.75 315.22 81.58 316.5 80.5 C317.78 79.42 319.33 78.73 320.7 77 C322.07 75.27 323.55 72.85 324.7 70.1 C325.85 67.35 326.62 64.08 327.6 60.5 C328.58 56.92 329.68 51.77 330.6 48.6 C331.52 45.43 332.28 43.18 333.1 41.5 C333.92 39.82 334.63 38.45 335.5 38.5 C336.37 38.55 337.32 39.82 338.3 41.8 C339.28 43.78 340.22 47 341.4 50.4 C342.58 53.8 344.08 58.27 345.4 62.2 C346.72 66.13 347.98 70.12 349.3 74 C350.62 77.88 351.92 81.97 353.3 85.5 C354.68 89.03 356.23 92.25 357.6 95.2 C358.97 98.15 360.17 100.57 361.5 103.2 C362.83 105.83 364.32 108.12 365.6 111 C366.88 113.88 368.23 117.97 369.2 120.5 C370.17 123.03 370.68 125.58 371.4 126.2 C372.12 126.82 372.52 125.32 373.5 124.2 C374.48 123.08 375.48 122.53 377.3 119.5 C379.12 116.47 382.03 110.42 384.4 106 C386.77 101.58 389.13 96.52 391.5 93 C393.87 89.48 396.23 86.9 398.6 84.9 C400.97 82.9 403.2 81.88 405.7 81 C408.2 80.12 410.92 79.83 413.6 79.6 C416.28 79.37 418.62 79.33 421.8 79.6 C424.98 79.87 429.5 80.74 432.7 81.2 C435.9 81.66 439.62 82.16 441 82.35" fill="none" stroke="#0a0aff" stroke-width="2" stroke-dasharray="4.4 4"/>
<path d="M441 82.35 H537.6" fill="none" stroke="#0a0aff" stroke-width="2.1" stroke-dasharray="4.4 4"/>
</g>
<rect x="442.6" y="14.5" width="88.8" height="19.1" fill="#fff" stroke="#555" stroke-width="0.6"/>
<path d="M445 20.2 H467.4" stroke="#ff1010" stroke-width="2" stroke-dasharray="5.4 3.6"/>
<path d="M445 28.6 H467.4" stroke="#0a0aff" stroke-width="2" stroke-dasharray="5.4 3.6"/>
<text x="468.6" y="20.2" font-size="6.3" font-family="'Liberation Sans', Arial, sans-serif" text-anchor="start" dominant-baseline="central" fill="#111" >Reference yaw angle</text>
<text x="468.6" y="28.6" font-size="6.3" font-family="'Liberation Sans', Arial, sans-serif" text-anchor="start" dominant-baseline="central" fill="#111" >Real yaw angle</text>
<text x="303.5" y="200.3" font-size="7.5" font-family="'Liberation Serif', serif" text-anchor="middle" dominant-baseline="central" fill="#111"  stroke="#111" stroke-width="0.2">0</text>
<text x="336.01" y="200.3" font-size="7.5" font-family="'Liberation Serif', serif" text-anchor="middle" dominant-baseline="central" fill="#111"  stroke="#111" stroke-width="0.2">50</text>
<text x="368.53" y="200.3" font-size="7.5" font-family="'Liberation Serif', serif" text-anchor="middle" dominant-baseline="central" fill="#111"  stroke="#111" stroke-width="0.2">100</text>
<text x="401.05" y="200.3" font-size="7.5" font-family="'Liberation Serif', serif" text-anchor="middle" dominant-baseline="central" fill="#111"  stroke="#111" stroke-width="0.2">150</text>
<text x="433.56" y="200.3" font-size="7.5" font-family="'Liberation Serif', serif" text-anchor="middle" dominant-baseline="central" fill="#111"  stroke="#111" stroke-width="0.2">200</text>
<text x="466.07" y="200.3" font-size="7.5" font-family="'Liberation Serif', serif" text-anchor="middle" dominant-baseline="central" fill="#111"  stroke="#111" stroke-width="0.2">250</text>
<text x="498.59" y="200.3" font-size="7.5" font-family="'Liberation Serif', serif" text-anchor="middle" dominant-baseline="central" fill="#111"  stroke="#111" stroke-width="0.2">300</text>
<text x="531.11" y="200.3" font-size="7.5" font-family="'Liberation Serif', serif" text-anchor="middle" dominant-baseline="central" fill="#111"  stroke="#111" stroke-width="0.2">350</text>
<text x="300.2" y="193.5" font-size="7.4" font-family="'Liberation Serif', serif" text-anchor="end" dominant-baseline="central" fill="#111"  stroke="#111" stroke-width="0.2">−0.3</text>
<text x="300.2" y="174.98" font-size="7.4" font-family="'Liberation Serif', serif" text-anchor="end" dominant-baseline="central" fill="#111"  stroke="#111" stroke-width="0.2">−0.25</text>
<text x="300.2" y="156.46" font-size="7.4" font-family="'Liberation Serif', serif" text-anchor="end" dominant-baseline="central" fill="#111"  stroke="#111" stroke-width="0.2">−0.2</text>
<text x="300.2" y="137.94" font-size="7.4" font-family="'Liberation Serif', serif" text-anchor="end" dominant-baseline="central" fill="#111"  stroke="#111" stroke-width="0.2">−0.15</text>
<text x="300.2" y="119.42" font-size="7.4" font-family="'Liberation Serif', serif" text-anchor="end" dominant-baseline="central" fill="#111"  stroke="#111" stroke-width="0.2">−0.1</text>
<text x="300.2" y="100.9" font-size="7.4" font-family="'Liberation Serif', serif" text-anchor="end" dominant-baseline="central" fill="#111"  stroke="#111" stroke-width="0.2">−0.05</text>
<text x="300.2" y="82.38" font-size="7.4" font-family="'Liberation Serif', serif" text-anchor="end" dominant-baseline="central" fill="#111"  stroke="#111" stroke-width="0.2">0</text>
<text x="300.2" y="63.86" font-size="7.4" font-family="'Liberation Serif', serif" text-anchor="end" dominant-baseline="central" fill="#111"  stroke="#111" stroke-width="0.2">0.05</text>
<text x="300.2" y="45.34" font-size="7.4" font-family="'Liberation Serif', serif" text-anchor="end" dominant-baseline="central" fill="#111"  stroke="#111" stroke-width="0.2">0.1</text>
<text x="300.2" y="26.82" font-size="7.4" font-family="'Liberation Serif', serif" text-anchor="end" dominant-baseline="central" fill="#111"  stroke="#111" stroke-width="0.2">0.15</text>
<text x="300.2" y="8.3" font-size="7.4" font-family="'Liberation Serif', serif" text-anchor="end" dominant-baseline="central" fill="#111"  stroke="#111" stroke-width="0.2">0.2</text>
<text x="420.4" y="211.8" font-size="7.5" font-family="'Liberation Sans', Arial, sans-serif" text-anchor="middle" dominant-baseline="central" fill="#111" >X (m)</text>
<text x="277.0" y="101.25" font-size="7.4" font-family="'Liberation Sans', Arial, sans-serif" text-anchor="middle" fill="#222" textLength="55.9" lengthAdjust="spacingAndGlyphs" transform="rotate(-90 277.0 101.25)">Yaw angle (rad)</text>
<path d="M29.3 456.3v-2.3 M29.3 263.3v2.3 M63.26 456.3v-2.3 M63.26 263.3v2.3 M97.22 456.3v-2.3 M97.22 263.3v2.3 M131.18 456.3v-2.3 M131.18 263.3v2.3 M165.14 456.3v-2.3 M165.14 263.3v2.3 M199.1 456.3v-2.3 M199.1 263.3v2.3 M233.06 456.3v-2.3 M233.06 263.3v2.3 M267.02 456.3v-2.3 M267.02 263.3v2.3 M29.3 456.3h2.3 M273.8 456.3h-2.3 M29.3 417.7h2.3 M273.8 417.7h-2.3 M29.3 379.1h2.3 M273.8 379.1h-2.3 M29.3 340.5h2.3 M273.8 340.5h-2.3 M29.3 301.9h2.3 M273.8 301.9h-2.3 M29.3 263.3h2.3 M273.8 263.3h-2.3 " stroke="#6a6a6a" stroke-width="0.7" fill="none"/>
<rect x="29.3" y="263.3" width="244.5" height="193" fill="none" stroke="#6a6a6a" stroke-width="1"/>
<g clip-path="url(#cc)">
<path d="M29.3 456.3 H66.3 V278.7 H273.8" fill="none" stroke="#ff1010" stroke-width="2" stroke-dasharray="5 4"/>
<path d="M29.3 275.5 C29.87 276.25 31.6 278.27 32.7 280 C33.8 281.73 34.87 283.93 35.9 285.9 C36.93 287.87 37.92 289.85 38.9 291.8 C39.88 293.75 40.87 295.8 41.8 297.6 C42.73 299.4 43.53 300.72 44.5 302.6 C45.47 304.48 46.6 306.87 47.6 308.9 C48.6 310.93 49.52 312.8 50.5 314.8 C51.48 316.8 52.53 318.83 53.5 320.9 C54.47 322.97 55.28 324.97 56.3 327.2 C57.32 329.43 58.57 332.03 59.6 334.3 C60.63 336.57 61.62 338.75 62.5 340.8 C63.38 342.85 64.2 344.93 64.9 346.6 C65.6 348.27 66.2 349.82 66.7 350.8 C67.2 351.78 67.48 352.2 67.9 352.5 C68.32 352.8 68.77 352.7 69.2 352.6 C69.63 352.5 69.83 352.47 70.5 351.9 C71.17 351.33 72.32 350.1 73.2 349.2 C74.08 348.3 74.95 347.37 75.8 346.5 C76.65 345.63 76.77 345.57 78.3 344 C79.83 342.43 82.22 339.88 85 337.1 C87.78 334.32 90.83 331.22 95 327.3 C99.17 323.38 105.68 317.33 110 313.6 C114.32 309.87 117.27 307.62 120.9 304.9 C124.53 302.18 128.17 299.75 131.8 297.3 C135.43 294.85 139.07 292.48 142.7 290.2 C146.33 287.92 150.88 285.22 153.6 283.6 C156.32 281.98 157.52 281.3 159 280.5 C160.48 279.7 161.4 279.23 162.5 278.8 C163.6 278.37 164.6 277.98 165.6 277.9 C166.6 277.82 167.43 278.15 168.5 278.3 C169.57 278.45 154.45 278.72 172 278.8 C189.55 278.88 256.83 278.8 273.8 278.8" fill="none" stroke="#00ee00" stroke-width="1.75"/>
</g>
<rect x="183.3" y="283.2" width="86.4" height="20" fill="#fff" stroke="#555" stroke-width="0.6"/>
<path d="M186.2 289.2 H208.2" stroke="#ff1010" stroke-width="2" stroke-dasharray="4.4 4"/>
<path d="M186.2 298.2 H208.2" stroke="#00ee00" stroke-width="2"/>
<text x="210" y="289.2" font-size="6.66" font-family="'Liberation Sans', Arial, sans-serif" text-anchor="start" dominant-baseline="central" fill="#111" >Preceeding vehicle</text>
<text x="210" y="298.2" font-size="6.66" font-family="'Liberation Sans', Arial, sans-serif" text-anchor="start" dominant-baseline="central" fill="#111" >Host vehicle</text>
<text x="29.3" y="463.8" font-size="7.5" font-family="'Liberation Serif', serif" text-anchor="middle" dominant-baseline="central" fill="#111"  stroke="#111" stroke-width="0.2">0</text>
<text x="63.26" y="463.8" font-size="7.5" font-family="'Liberation Serif', serif" text-anchor="middle" dominant-baseline="central" fill="#111"  stroke="#111" stroke-width="0.2">50</text>
<text x="97.22" y="463.8" font-size="7.5" font-family="'Liberation Serif', serif" text-anchor="middle" dominant-baseline="central" fill="#111"  stroke="#111" stroke-width="0.2">100</text>
<text x="131.18" y="463.8" font-size="7.5" font-family="'Liberation Serif', serif" text-anchor="middle" dominant-baseline="central" fill="#111"  stroke="#111" stroke-width="0.2">150</text>
<text x="165.14" y="463.8" font-size="7.5" font-family="'Liberation Serif', serif" text-anchor="middle" dominant-baseline="central" fill="#111"  stroke="#111" stroke-width="0.2">200</text>
<text x="199.1" y="463.8" font-size="7.5" font-family="'Liberation Serif', serif" text-anchor="middle" dominant-baseline="central" fill="#111"  stroke="#111" stroke-width="0.2">250</text>
<text x="233.06" y="463.8" font-size="7.5" font-family="'Liberation Serif', serif" text-anchor="middle" dominant-baseline="central" fill="#111"  stroke="#111" stroke-width="0.2">300</text>
<text x="267.02" y="463.8" font-size="7.5" font-family="'Liberation Serif', serif" text-anchor="middle" dominant-baseline="central" fill="#111"  stroke="#111" stroke-width="0.2">350</text>
<text x="26.1" y="456.3" font-size="7.5" font-family="'Liberation Serif', serif" text-anchor="end" dominant-baseline="central" fill="#111"  stroke="#111" stroke-width="0.2">10</text>
<text x="26.1" y="417.7" font-size="7.5" font-family="'Liberation Serif', serif" text-anchor="end" dominant-baseline="central" fill="#111"  stroke="#111" stroke-width="0.2">15</text>
<text x="26.1" y="379.1" font-size="7.5" font-family="'Liberation Serif', serif" text-anchor="end" dominant-baseline="central" fill="#111"  stroke="#111" stroke-width="0.2">20</text>
<text x="26.1" y="340.5" font-size="7.5" font-family="'Liberation Serif', serif" text-anchor="end" dominant-baseline="central" fill="#111"  stroke="#111" stroke-width="0.2">25</text>
<text x="26.1" y="301.9" font-size="7.5" font-family="'Liberation Serif', serif" text-anchor="end" dominant-baseline="central" fill="#111"  stroke="#111" stroke-width="0.2">30</text>
<text x="26.1" y="263.3" font-size="7.5" font-family="'Liberation Serif', serif" text-anchor="end" dominant-baseline="central" fill="#111"  stroke="#111" stroke-width="0.2">35</text>
<text x="151.6" y="475.2" font-size="7.8" font-family="'Liberation Sans', Arial, sans-serif" text-anchor="middle" dominant-baseline="central" fill="#111" >X (m)</text>
<text x="14.2" y="360.2" font-size="7.6" font-family="'Liberation Sans', Arial, sans-serif" text-anchor="middle" fill="#222" textLength="51" lengthAdjust="spacingAndGlyphs" transform="rotate(-90 14.2 360.2)">Velocity (m/s)</text>
<path d="M302.8 457.3v-2.3 M302.8 267.6v2.3 M336.11 457.3v-2.3 M336.11 267.6v2.3 M369.41 457.3v-2.3 M369.41 267.6v2.3 M402.72 457.3v-2.3 M402.72 267.6v2.3 M436.02 457.3v-2.3 M436.02 267.6v2.3 M469.33 457.3v-2.3 M469.33 267.6v2.3 M502.63 457.3v-2.3 M502.63 267.6v2.3 M535.94 457.3v-2.3 M535.94 267.6v2.3 M302.8 457.29h2.3 M542.6 457.29h-2.3 M302.8 433.58h2.3 M542.6 433.58h-2.3 M302.8 409.87h2.3 M542.6 409.87h-2.3 M302.8 386.16h2.3 M542.6 386.16h-2.3 M302.8 362.45h2.3 M542.6 362.45h-2.3 M302.8 338.74h2.3 M542.6 338.74h-2.3 M302.8 315.03h2.3 M542.6 315.03h-2.3 M302.8 291.32h2.3 M542.6 291.32h-2.3 M302.8 267.61h2.3 M542.6 267.61h-2.3 " stroke="#6a6a6a" stroke-width="0.7" fill="none"/>
<rect x="302.8" y="267.6" width="239.8" height="189.7" fill="none" stroke="#6a6a6a" stroke-width="1"/>
<g clip-path="url(#cd)">
<path d="M302.9 362.4 L303.4 380 L303.9 406.8 L304.4 400 L304.9 395 L305.4 378 L305.9 359.4 L306.4 342 L306.9 331.8 L307.6 345 L308.3 360 L308.9 367.3 L310 363 L311.2 356 L312.5 349.5 L313.6 352 L314.8 353.5 L316 349 L317.7 343.7 L318.9 339.5 L319.6 336 L320.7 331.5 L321.5 327 L322.7 322 L323.2 316 L323.7 305.5 L324.5 300 L325.2 297 L326 290.7 L327 289 L327.8 287.8 L328.4 292 L328.8 294.9 L329.4 287 L330 281 L330.8 277.7 L331.6 281 L332.5 288.9 L333.4 291 L334.3 291.3 L335 298 L335.5 305.5 L336.1 313 L336.7 320.9 L337.5 323 L338.5 345 L339.7 368 L341 397.6 L342 412 L343.1 425.2 L344.3 434 L345.4 439.5 L346.4 440.3 L347.5 439 L348.5 434 L349.7 428.5 L351.4 426.4 L353.5 427.5 L356 429.8 L359 431.5 L363.1 433 L366 433 L368.7 433.8 L370 422.5 L371.2 404.5 L372.1 397.6 L372.8 382.4 L374.2 378.3 L374.5 372 L375.2 358.9 L375.8 339.2 L377.4 325.4 L378.8 313.5 L380.4 301.7 L382.8 295.8 L385.5 294.8 L387.7 295 L390 297.5 L392.6 301.7 L395.5 309 L398.5 317.5 L401.5 326.5 L404.4 335.2 L407.4 343.5 L410.4 351 L413.3 356.5 L416.3 360.9 L419.2 364 L422.2 365.8 L426 367.3 L430 368 L434 367.8 L438 367.2 L446.3 365.4 L455 363.6 L462 362.6 L470.8 362.1 L483 361.9 L495.4 362.1 L510 362.35 L542.6 362.45" fill="none" stroke="#ff0000" stroke-width="1.9" stroke-linejoin="round"/>
<path d="M375 363.25 L375.5 346.99 L376 336.06 L376.5 333.1 L377 327.31 L377.5 326.04 L378 318.35 L378.5 317.98 L379 309.52 L379.5 310.59 L380 301.48 L380.5 305.1 L381 297.47 L381.5 302.23 L382 295.25 L382.5 300.43 L383 293.74 L383.5 299.26 L384 292.93 L384.5 298.71 L385 292.55 L385.5 298.4 L386 292.27 L386.5 298.19 L387 292.17 L387.5 298.24 L388 292.4 L388.5 298.65 L389 292.97 L389.5 299.38 L390 293.88 L390.5 300.5 L391 295.27 L391.5 302.22 L392 297.32 L392.5 304.47 L393 299.64 L393.5 306.85 L394 302.1 L394.5 309.37 L395 304.67 L395.5 311.96 L396 307.44 L396.5 314.62 L397 310.33 L397.5 317.39 L398 313.3 L398.5 320.21 L399 316.31 L399.5 323.08 L400 319.39 L400.5 326.02 L401 322.5 L401.5 328.95 L402 325.6 L402.5 331.9 L403 328.72 L403.5 334.84 L404 331.79 L404.5 337.69 L405 334.76 L405.5 340.44 L406 337.65 L406.5 343.12 L407 340.45 L407.5 345.71 L408 343.17 L408.5 348.25 L409 345.84 L409.5 350.68 L410 348.36 L410.5 352.91 L411 350.62 L411.5 354.89 L412 352.65 L412.5 356.65 L413 354.51 L413.5 358.27 L414 356.24 L414.5 359.77 L415 357.82 L415.5 361.13 L416 359.27 L416.5 362.36 L417 360.59 L417.5 363.47 L418 361.79 L418.5 364.43 L419 362.82 L419.5 365.21 L420 363.67 L420.5 365.81 L421 364.34 L421.5 366.27 L422 364.93 L422.5 366.68 L423 365.47 L423.5 367.06 L424 365.98 L424.5 367.38 L425 366.44 L425.5 367.66 L426 366.83 L426.5 367.86 L427 367.17 L427.5 368.01 L428 367.45 L428.5 368.11 L429 367.67 L429.5 368.16 L430 367.84 L430.5 368.14 L431 367.94 L431.5 368.05" fill="none" stroke="#ff0000" stroke-width="1.6" stroke-linejoin="round"/>
</g>
<rect x="450.5" y="273.6" width="85.9" height="11.4" fill="#fff" stroke="#555" stroke-width="0.6"/>
<path d="M452.4 279.5 H474.4" stroke="#ff0000" stroke-width="2"/>
<text x="475.9" y="279.7" font-size="6.6" font-family="'Liberation Sans', Arial, sans-serif" text-anchor="start" dominant-baseline="central" fill="#111" >Lateral acceleration</text>
<text x="302.8" y="464.3" font-size="7.5" font-family="'Liberation Serif', serif" text-anchor="middle" dominant-baseline="central" fill="#111"  stroke="#111" stroke-width="0.2">0</text>
<text x="336.11" y="464.3" font-size="7.5" font-family="'Liberation Serif', serif" text-anchor="middle" dominant-baseline="central" fill="#111"  stroke="#111" stroke-width="0.2">50</text>
<text x="369.41" y="464.3" font-size="7.5" font-family="'Liberation Serif', serif" text-anchor="middle" dominant-baseline="central" fill="#111"  stroke="#111" stroke-width="0.2">100</text>
<text x="402.72" y="464.3" font-size="7.5" font-family="'Liberation Serif', serif" text-anchor="middle" dominant-baseline="central" fill="#111"  stroke="#111" stroke-width="0.2">150</text>
<text x="436.02" y="464.3" font-size="7.5" font-family="'Liberation Serif', serif" text-anchor="middle" dominant-baseline="central" fill="#111"  stroke="#111" stroke-width="0.2">200</text>
<text x="469.33" y="464.3" font-size="7.5" font-family="'Liberation Serif', serif" text-anchor="middle" dominant-baseline="central" fill="#111"  stroke="#111" stroke-width="0.2">250</text>
<text x="502.63" y="464.3" font-size="7.5" font-family="'Liberation Serif', serif" text-anchor="middle" dominant-baseline="central" fill="#111"  stroke="#111" stroke-width="0.2">300</text>
<text x="535.94" y="464.3" font-size="7.5" font-family="'Liberation Serif', serif" text-anchor="middle" dominant-baseline="central" fill="#111"  stroke="#111" stroke-width="0.2">350</text>
<text x="299.9" y="457.29" font-size="7.5" font-family="'Liberation Serif', serif" text-anchor="end" dominant-baseline="central" fill="#111"  stroke="#111" stroke-width="0.2">−4</text>
<text x="299.9" y="433.58" font-size="7.5" font-family="'Liberation Serif', serif" text-anchor="end" dominant-baseline="central" fill="#111"  stroke="#111" stroke-width="0.2">−3</text>
<text x="299.9" y="409.87" font-size="7.5" font-family="'Liberation Serif', serif" text-anchor="end" dominant-baseline="central" fill="#111"  stroke="#111" stroke-width="0.2">−2</text>
<text x="299.9" y="386.16" font-size="7.5" font-family="'Liberation Serif', serif" text-anchor="end" dominant-baseline="central" fill="#111"  stroke="#111" stroke-width="0.2">−1</text>
<text x="299.9" y="362.45" font-size="7.5" font-family="'Liberation Serif', serif" text-anchor="end" dominant-baseline="central" fill="#111"  stroke="#111" stroke-width="0.2">0</text>
<text x="299.9" y="338.74" font-size="7.5" font-family="'Liberation Serif', serif" text-anchor="end" dominant-baseline="central" fill="#111"  stroke="#111" stroke-width="0.2">1</text>
<text x="299.9" y="315.03" font-size="7.5" font-family="'Liberation Serif', serif" text-anchor="end" dominant-baseline="central" fill="#111"  stroke="#111" stroke-width="0.2">2</text>
<text x="299.9" y="291.32" font-size="7.5" font-family="'Liberation Serif', serif" text-anchor="end" dominant-baseline="central" fill="#111"  stroke="#111" stroke-width="0.2">3</text>
<text x="299.9" y="267.61" font-size="7.5" font-family="'Liberation Serif', serif" text-anchor="end" dominant-baseline="central" fill="#111"  stroke="#111" stroke-width="0.2">4</text>
<text x="422.2" y="475" font-size="7.9" font-family="'Liberation Sans', Arial, sans-serif" text-anchor="middle" dominant-baseline="central" fill="#111" >X (m)</text>
<text x="285.9" y="362.5" font-size="7.4" font-family="'Liberation Sans', Arial, sans-serif" text-anchor="middle" fill="#222" textLength="94.7" lengthAdjust="spacingAndGlyphs" transform="rotate(-90 285.9 362.5)">Lateral acceleration (m/s<tspan font-size="5" dy="-2.6">2</tspan><tspan dy="2.6">)</tspan></text>
<text x="20.8" y="237" font-size="13.2" font-family="'Liberation Serif', serif" fill="#111" textLength="13.6" lengthAdjust="spacingAndGlyphs">(<tspan font-weight="bold">a</tspan>)</text>
<text x="39.9" y="237" font-size="13.2" font-family="'Liberation Serif', serif" fill="#111" textLength="142.6" lengthAdjust="spacingAndGlyphs">Trajectory tracking curve.</text>
<text x="269.9" y="237.1" font-size="13.2" font-family="'Liberation Serif', serif" fill="#111" textLength="16" lengthAdjust="spacingAndGlyphs">(<tspan font-weight="bold">b</tspan>)</text>
<text x="290.2" y="237.1" font-size="13.2" font-family="'Liberation Serif', serif" fill="#111" textLength="186.8" lengthAdjust="spacingAndGlyphs">The lateral angle variation curve.</text>
<text x="5.8" y="500.6" font-size="13.2" font-family="'Liberation Serif', serif" fill="#111" textLength="14" lengthAdjust="spacingAndGlyphs">(<tspan font-weight="bold">c</tspan>)</text>
<text x="24.1" y="500.6" font-size="13.2" font-family="'Liberation Serif', serif" fill="#111" textLength="202.3" lengthAdjust="spacingAndGlyphs">The longitudinal velocity variation.</text>
<text x="275.2" y="500.7" font-size="13.2" font-family="'Liberation Serif', serif" fill="#111" textLength="16.2" lengthAdjust="spacingAndGlyphs">(<tspan font-weight="bold">d</tspan>)</text>
<text x="295.8" y="500.7" font-size="13.2" font-family="'Liberation Serif', serif" fill="#111" textLength="190.6" lengthAdjust="spacingAndGlyphs">The lateral acceleration variation.</text>
</svg>
</body></html>
